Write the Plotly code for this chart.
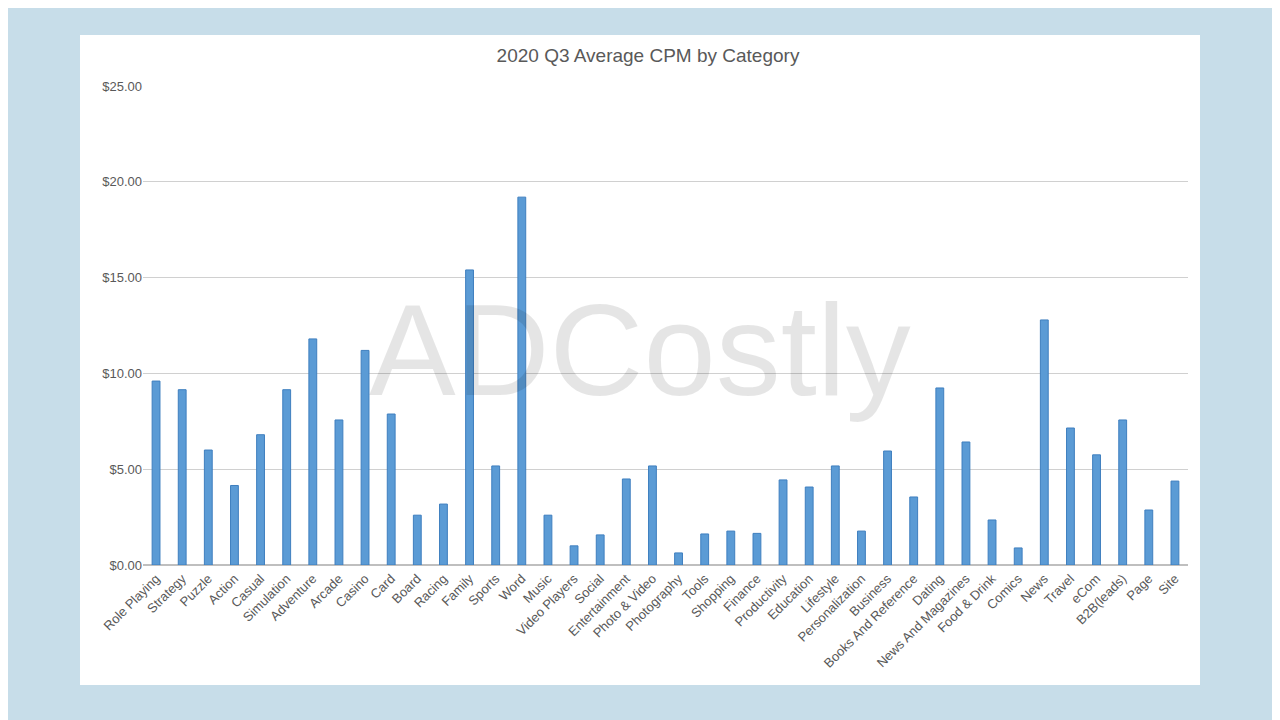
import plotly.graph_objects as go

categories = ["Role Playing","Strategy","Puzzle","Action","Casual","Simulation","Adventure","Arcade","Casino","Card","Board","Racing","Family","Sports","Word","Music","Video Players","Social","Entertainment","Photo & Video","Photography","Tools","Shopping","Finance","Productivity","Education","Lifestyle","Personalization","Business","Books And Reference","Dating","News And Magazines","Food & Drink","Comics","News","Travel","eCom","B2B(leads)","Page","Site"]
cpm = [9.6,9.15,6.0,4.15,6.8,9.15,11.8,7.57,11.2,7.88,2.6,3.18,15.4,5.17,19.2,2.6,1.0,1.57,4.49,5.17,0.63,1.62,1.77,1.65,4.44,4.07,5.17,1.77,5.95,3.55,9.24,6.42,2.35,0.89,12.79,7.15,5.75,7.57,2.87,4.38]

OFF = 8
fig = go.Figure(go.Bar(x=categories, y=cpm, marker=dict(color="#5b9bd5", line=dict(color="#3f7fbf", width=1)), width=0.3))
L, R, T, B = 143 - OFF, 92 + OFF, 86 - OFF, 155 + OFF
W, H = 1280, 720
pw, ph = W - L - R, H - T - B
def px(x): return (x - OFF - L) / pw
def py(y): return (H - B - (y - OFF)) / ph
fig.add_shape(type="rect", xref="paper", yref="paper", x0=px(80), x1=px(1200), y0=py(685), y1=py(35),
              fillcolor="white", line=dict(width=0), layer="below")
fig.add_annotation(text="ADCostly", xref="paper", yref="paper", x=px(640), y=py(350), showarrow=False,
                   font=dict(size=130, color="rgba(0,0,0,0.1)", family="Liberation Sans"))
fig.update_layout(
    width=W, height=H, margin=dict(l=L, r=R, t=T, b=B),
    paper_bgcolor="#c7dde9", plot_bgcolor="white",
    title=dict(text="2020 Q3 Average CPM by Category", x=0.5, y=1 - (55 - OFF)/H, xanchor="center", yanchor="middle",
               font=dict(size=19, color="#595959", family="Liberation Sans")),
    font=dict(family="Liberation Sans", size=13, color="#595959"),
    showlegend=False, bargap=0.7,
)
fig.update_yaxes(range=[0, 25], dtick=5, tickprefix="$", tickformat=".2f", gridcolor="#d0d0d0",
                 zeroline=True, zerolinecolor="#bfbfbf", ticks="", tickfont=dict(size=13))
fig.update_xaxes(tickangle=-45, tickfont=dict(size=13), showline=True, linecolor="#bfbfbf")
fig.write_html("out.html")
